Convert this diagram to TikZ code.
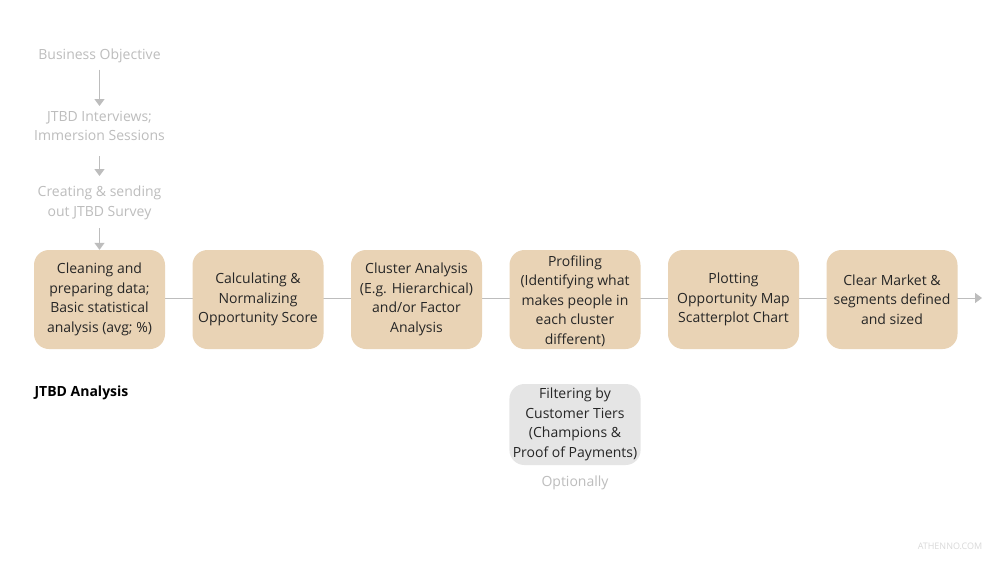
\documentclass[tikz,border=0pt]{standalone}
\usepackage{fontspec}
\setmainfont{Open Sans}
\usetikzlibrary{arrows.meta}
\definecolor{tan}{HTML}{E9D3B5}
\definecolor{lgrey}{HTML}{BDBDBD}
\definecolor{boxgrey}{HTML}{E5E5E5}
\begin{document}
\begin{tikzpicture}[x=1pt,y=-1pt,
  stepbox/.style={fill=tan,rounded corners=15pt,minimum width=131pt,minimum height=99pt,align=center,font=\fontsize{14}{19.5}\selectfont,text=black!85},
  greybox/.style={fill=boxgrey,rounded corners=15pt,minimum width=131pt,minimum height=81pt,align=center,font=\fontsize{14}{19.5}\selectfont,text=black!85},
  toptxt/.style={align=center,text=lgrey,font=\fontsize{14}{19.5}\selectfont},
  arr/.style={draw=lgrey,line width=1.3pt,-{Triangle[length=7pt,width=10pt]}}]
\useasboundingbox (0,0) rectangle (1000,563);
\fill[white] (0,0) rectangle (1000,563);
\coordinate (e) at (982,298);
\draw[arr,line width=1pt] (165,298) -- (e);
\node[stepbox] (b1) at (99.5,299.5) {Cleaning and\\preparing data;\\Basic statistical\\analysis (avg; \%)};
\node[stepbox] (b2) at (258,299.5) {Calculating \&\\Normalizing\\Opportunity Score};
\node[stepbox] (b3) at (416.5,299.5) {Cluster Analysis\\(E.g. Hierarchical)\\and/or Factor\\Analysis};
\node[stepbox] (b4) at (575,299.5) {};
\node[align=center,font=\fontsize{14}{19.5}\selectfont,text=black!85] at (575,301) {Profiling\\(Identifying what\\makes people in\\each cluster\\different)};
\node[stepbox] (b5) at (733.5,299.5) {Plotting\\Opportunity Map\\Scatterplot Chart};
\node[stepbox] (b6) at (892,299.5) {Clear Market \&\\segments defined\\and sized};
\node[toptxt] (t1) at (99.5,56) {Business Objective};
\node[toptxt] (t2) at (99.5,126) {JTBD Interviews;\\Immersion Sessions};
\node[toptxt] (t3) at (99.5,203) {Creating \& sending\\out JTBD Survey};
\draw[arr] (t1.south) ++(0,3) -- (99.5,106);
\draw[arr] (99.5,156) -- (99.5,176);
\draw[arr] (99.5,228) -- (b1.north);
\node[anchor=west,font=\bfseries\fontsize{14}{17}\selectfont] (ja) at (31,393) {JTBD Analysis};
\node[greybox] (g) at (575,424.5) {Filtering by\\Customer Tiers\\(Champions \&\\Proof of Payments)};
\node[toptxt] (opt) at (575,483) {Optionally};
\node[text=black!15,font=\fontsize{9}{11}\selectfont] (ath) at (950,546) {ATHENNO.COM};
\end{tikzpicture}
\end{document}
